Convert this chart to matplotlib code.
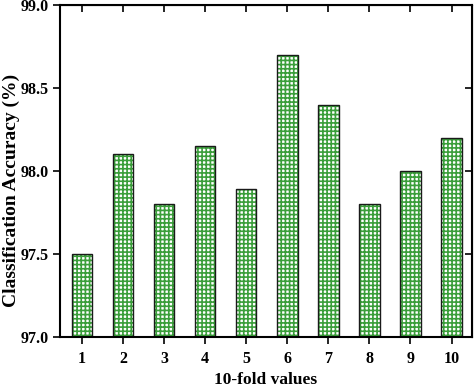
import numpy as np
import matplotlib.pyplot as plt

# fold index and accuracy
folds = [1, 2, 3, 4, 5, 6, 7, 8, 9, 10]
accuracy = [97.5, 98.1, 97.8, 98.15, 97.89, 98.7, 98.4, 97.8, 98.0, 98.2]
y_ticks = [97.0, 97.5, 98.0, 98.5, 99.0]

plt.rcParams['font.family'] = ['Liberation Serif', 'DejaVu Serif']
plt.rcParams['font.weight'] = 'bold'
plt.rcParams['hatch.linewidth'] = 1.2

fig, ax = plt.subplots(figsize=(4.74, 3.87), dpi=100)
fig.subplots_adjust(left=0.127, right=0.995, top=0.987, bottom=0.129)

# hatched fill first (hatch takes the edge colour), then a black outline
ax.bar(folds, np.array(accuracy) - 97.0, bottom=97.0, width=0.5,
       color='white', edgecolor='#3a9e3a', hatch='++++', linewidth=0)
ax.bar(folds, np.array(accuracy) - 97.0, bottom=97.0, width=0.5,
       fill=False, edgecolor='#1a1a1a', linewidth=1.0)

ax.set_xlim(0.47, 10.49)
ax.set_ylim(97.0, 99.0)
ax.set_xticks(folds)
ax.set_yticks(y_ticks)
ax.set_yticklabels(['%.1f' % v for v in y_ticks])
ax.tick_params(axis='both', direction='out', length=5, width=1.2,
               labelsize=11.5)
ax.tick_params(axis='x', pad=5)

for s in ax.spines.values():
    s.set_linewidth(1.5)

# inward ticks on top and right sides
top = ax.secondary_xaxis('top')
top.set_xticks(folds)
top.tick_params(direction='in', length=5, width=1.2, labeltop=False)
right = ax.secondary_yaxis('right')
right.set_yticks(y_ticks)
right.tick_params(direction='in', length=5, width=1.2, labelright=False)

ax.set_xlabel('10-fold values', fontsize=12.5, fontweight='bold')
ax.set_ylabel('Classification Accuracy (%)', fontsize=14, fontweight='bold')
ax.xaxis.set_label_coords(0.5, -0.13)
ax.yaxis.set_label_coords(-0.119, 0.443)
ax.xaxis.label.set_va('center')
ax.yaxis.label.set_va('center')

fig.savefig('out.png', dpi=100)
